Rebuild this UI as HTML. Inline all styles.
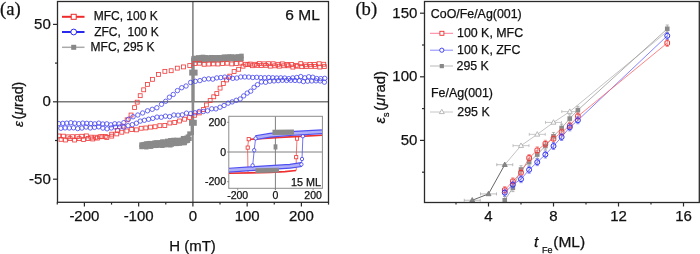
<!DOCTYPE html>
<html><head><meta charset="utf-8"><style>
html,body{margin:0;padding:0;background:#fff;}
body{width:700px;height:254px;position:relative;overflow:hidden;}
text{stroke:#111;stroke-width:0.25px;}
</style></head><body>
<svg width="700" height="254" viewBox="0 0 700 254" style="position:absolute;left:0;top:0;filter:blur(0.4px)">
<rect width="700" height="254" fill="#fff"/>
<defs><clipPath id="cl"><rect x="58" y="2" width="270" height="200"/></clipPath><clipPath id="ci"><rect x="229" y="116.5" width="93" height="71.5"/></clipPath></defs>
<line x1="57.5" y1="101.8" x2="328.5" y2="101.8" stroke="#7a7a7a" stroke-width="1.5"/>
<line x1="192.9" y1="1.5" x2="192.9" y2="202.3" stroke="#7a7a7a" stroke-width="1.5"/>
<g clip-path="url(#cl)">
<rect x="191.3" y="58" width="3.4" height="43" fill="#8a8a8a"/>
<rect x="191.6" y="100" width="2.6" height="22" fill="#8a8a8a"/>
<rect x="190.6" y="125" width="3.4" height="10" fill="#8a8a8a"/>
<rect x="139.25" y="142.35" width="4.5" height="4.5" fill="#8a8a8a"/>
<rect x="140.85" y="142.31" width="4.5" height="4.5" fill="#8a8a8a"/>
<rect x="142.45" y="141.84" width="4.5" height="4.5" fill="#8a8a8a"/>
<rect x="144.05" y="141.34" width="4.5" height="4.5" fill="#8a8a8a"/>
<rect x="145.65" y="141.37" width="4.5" height="4.5" fill="#8a8a8a"/>
<rect x="147.25" y="140.91" width="4.5" height="4.5" fill="#8a8a8a"/>
<rect x="148.85" y="141.24" width="4.5" height="4.5" fill="#8a8a8a"/>
<rect x="150.45" y="141.67" width="4.5" height="4.5" fill="#8a8a8a"/>
<rect x="152.05" y="140.54" width="4.5" height="4.5" fill="#8a8a8a"/>
<rect x="153.65" y="140.27" width="4.5" height="4.5" fill="#8a8a8a"/>
<rect x="155.25" y="140.62" width="4.5" height="4.5" fill="#8a8a8a"/>
<rect x="156.85" y="140.35" width="4.5" height="4.5" fill="#8a8a8a"/>
<rect x="158.45" y="140.03" width="4.5" height="4.5" fill="#8a8a8a"/>
<rect x="160.05" y="139.35" width="4.5" height="4.5" fill="#8a8a8a"/>
<rect x="161.65" y="139.65" width="4.5" height="4.5" fill="#8a8a8a"/>
<rect x="163.25" y="139.85" width="4.5" height="4.5" fill="#8a8a8a"/>
<rect x="164.85" y="138.67" width="4.5" height="4.5" fill="#8a8a8a"/>
<rect x="166.45" y="138.95" width="4.5" height="4.5" fill="#8a8a8a"/>
<rect x="168.05" y="138.07" width="4.5" height="4.5" fill="#8a8a8a"/>
<rect x="169.65" y="138.2" width="4.5" height="4.5" fill="#8a8a8a"/>
<rect x="171.25" y="137.74" width="4.5" height="4.5" fill="#8a8a8a"/>
<rect x="172.85" y="138.37" width="4.5" height="4.5" fill="#8a8a8a"/>
<rect x="174.45" y="137.68" width="4.5" height="4.5" fill="#8a8a8a"/>
<rect x="176.05" y="138.27" width="4.5" height="4.5" fill="#8a8a8a"/>
<rect x="177.65" y="138.04" width="4.5" height="4.5" fill="#8a8a8a"/>
<rect x="179.25" y="137.5" width="4.5" height="4.5" fill="#8a8a8a"/>
<rect x="180.85" y="135.95" width="4.5" height="4.5" fill="#8a8a8a"/>
<rect x="182.45" y="136.55" width="4.5" height="4.5" fill="#8a8a8a"/>
<rect x="184.05" y="135.64" width="4.5" height="4.5" fill="#8a8a8a"/>
<rect x="185.65" y="134.39" width="4.5" height="4.5" fill="#8a8a8a"/>
<rect x="187.25" y="131.38" width="4.5" height="4.5" fill="#8a8a8a"/>
<rect x="139.25" y="144.71" width="4.5" height="4.5" fill="#8a8a8a"/>
<rect x="140.85" y="144.29" width="4.5" height="4.5" fill="#8a8a8a"/>
<rect x="142.45" y="144.21" width="4.5" height="4.5" fill="#8a8a8a"/>
<rect x="144.05" y="144.97" width="4.5" height="4.5" fill="#8a8a8a"/>
<rect x="145.65" y="143.87" width="4.5" height="4.5" fill="#8a8a8a"/>
<rect x="147.25" y="144.09" width="4.5" height="4.5" fill="#8a8a8a"/>
<rect x="148.85" y="144.38" width="4.5" height="4.5" fill="#8a8a8a"/>
<rect x="150.45" y="143.49" width="4.5" height="4.5" fill="#8a8a8a"/>
<rect x="152.05" y="143.56" width="4.5" height="4.5" fill="#8a8a8a"/>
<rect x="153.65" y="143.52" width="4.5" height="4.5" fill="#8a8a8a"/>
<rect x="155.25" y="143.33" width="4.5" height="4.5" fill="#8a8a8a"/>
<rect x="156.85" y="142.53" width="4.5" height="4.5" fill="#8a8a8a"/>
<rect x="158.45" y="143.02" width="4.5" height="4.5" fill="#8a8a8a"/>
<rect x="160.05" y="143.5" width="4.5" height="4.5" fill="#8a8a8a"/>
<rect x="161.65" y="141.89" width="4.5" height="4.5" fill="#8a8a8a"/>
<rect x="163.25" y="142.93" width="4.5" height="4.5" fill="#8a8a8a"/>
<rect x="164.85" y="142.4" width="4.5" height="4.5" fill="#8a8a8a"/>
<rect x="166.45" y="141.86" width="4.5" height="4.5" fill="#8a8a8a"/>
<rect x="168.05" y="143.02" width="4.5" height="4.5" fill="#8a8a8a"/>
<rect x="169.65" y="142.22" width="4.5" height="4.5" fill="#8a8a8a"/>
<rect x="171.25" y="141.07" width="4.5" height="4.5" fill="#8a8a8a"/>
<rect x="172.85" y="141.53" width="4.5" height="4.5" fill="#8a8a8a"/>
<rect x="174.45" y="141.6" width="4.5" height="4.5" fill="#8a8a8a"/>
<rect x="176.05" y="141.04" width="4.5" height="4.5" fill="#8a8a8a"/>
<rect x="177.65" y="141.3" width="4.5" height="4.5" fill="#8a8a8a"/>
<rect x="179.25" y="140.62" width="4.5" height="4.5" fill="#8a8a8a"/>
<rect x="180.85" y="140.66" width="4.5" height="4.5" fill="#8a8a8a"/>
<rect x="182.45" y="140.73" width="4.5" height="4.5" fill="#8a8a8a"/>
<rect x="184.05" y="138.88" width="4.5" height="4.5" fill="#8a8a8a"/>
<rect x="185.65" y="138.41" width="4.5" height="4.5" fill="#8a8a8a"/>
<rect x="187.25" y="136.52" width="4.5" height="4.5" fill="#8a8a8a"/>
<rect x="191.25" y="58.2" width="4.5" height="4.5" fill="#8a8a8a"/>
<rect x="192.85" y="57.63" width="4.5" height="4.5" fill="#8a8a8a"/>
<rect x="194.45" y="57.82" width="4.5" height="4.5" fill="#8a8a8a"/>
<rect x="196.05" y="57.92" width="4.5" height="4.5" fill="#8a8a8a"/>
<rect x="197.65" y="58.31" width="4.5" height="4.5" fill="#8a8a8a"/>
<rect x="199.25" y="58.36" width="4.5" height="4.5" fill="#8a8a8a"/>
<rect x="200.85" y="57.33" width="4.5" height="4.5" fill="#8a8a8a"/>
<rect x="202.45" y="57.49" width="4.5" height="4.5" fill="#8a8a8a"/>
<rect x="204.05" y="58.02" width="4.5" height="4.5" fill="#8a8a8a"/>
<rect x="205.65" y="56.92" width="4.5" height="4.5" fill="#8a8a8a"/>
<rect x="207.25" y="57.48" width="4.5" height="4.5" fill="#8a8a8a"/>
<rect x="208.85" y="57.57" width="4.5" height="4.5" fill="#8a8a8a"/>
<rect x="210.45" y="58.04" width="4.5" height="4.5" fill="#8a8a8a"/>
<rect x="212.05" y="57.75" width="4.5" height="4.5" fill="#8a8a8a"/>
<rect x="213.65" y="57.28" width="4.5" height="4.5" fill="#8a8a8a"/>
<rect x="215.25" y="57.2" width="4.5" height="4.5" fill="#8a8a8a"/>
<rect x="216.85" y="57.19" width="4.5" height="4.5" fill="#8a8a8a"/>
<rect x="218.45" y="57.83" width="4.5" height="4.5" fill="#8a8a8a"/>
<rect x="220.05" y="56.99" width="4.5" height="4.5" fill="#8a8a8a"/>
<rect x="221.65" y="56.97" width="4.5" height="4.5" fill="#8a8a8a"/>
<rect x="223.25" y="57.17" width="4.5" height="4.5" fill="#8a8a8a"/>
<rect x="224.85" y="56.92" width="4.5" height="4.5" fill="#8a8a8a"/>
<rect x="226.45" y="56.82" width="4.5" height="4.5" fill="#8a8a8a"/>
<rect x="228.05" y="56.4" width="4.5" height="4.5" fill="#8a8a8a"/>
<rect x="229.65" y="56.81" width="4.5" height="4.5" fill="#8a8a8a"/>
<rect x="231.25" y="56.61" width="4.5" height="4.5" fill="#8a8a8a"/>
<rect x="232.85" y="57.23" width="4.5" height="4.5" fill="#8a8a8a"/>
<rect x="234.45" y="57" width="4.5" height="4.5" fill="#8a8a8a"/>
<rect x="236.05" y="56.7" width="4.5" height="4.5" fill="#8a8a8a"/>
<rect x="237.65" y="56.95" width="4.5" height="4.5" fill="#8a8a8a"/>
<rect x="239.25" y="56.52" width="4.5" height="4.5" fill="#8a8a8a"/>
<rect x="191.25" y="56.17" width="4.5" height="4.5" fill="#8a8a8a"/>
<rect x="192.85" y="55.72" width="4.5" height="4.5" fill="#8a8a8a"/>
<rect x="194.45" y="55.93" width="4.5" height="4.5" fill="#8a8a8a"/>
<rect x="196.05" y="55.16" width="4.5" height="4.5" fill="#8a8a8a"/>
<rect x="197.65" y="55.79" width="4.5" height="4.5" fill="#8a8a8a"/>
<rect x="199.25" y="54.93" width="4.5" height="4.5" fill="#8a8a8a"/>
<rect x="200.85" y="54.74" width="4.5" height="4.5" fill="#8a8a8a"/>
<rect x="202.45" y="55.39" width="4.5" height="4.5" fill="#8a8a8a"/>
<rect x="204.05" y="55.1" width="4.5" height="4.5" fill="#8a8a8a"/>
<rect x="205.65" y="55.48" width="4.5" height="4.5" fill="#8a8a8a"/>
<rect x="207.25" y="56.26" width="4.5" height="4.5" fill="#8a8a8a"/>
<rect x="208.85" y="54.98" width="4.5" height="4.5" fill="#8a8a8a"/>
<rect x="210.45" y="55.02" width="4.5" height="4.5" fill="#8a8a8a"/>
<rect x="212.05" y="55.3" width="4.5" height="4.5" fill="#8a8a8a"/>
<rect x="213.65" y="55.37" width="4.5" height="4.5" fill="#8a8a8a"/>
<rect x="215.25" y="55.05" width="4.5" height="4.5" fill="#8a8a8a"/>
<rect x="216.85" y="54.99" width="4.5" height="4.5" fill="#8a8a8a"/>
<rect x="218.45" y="55.3" width="4.5" height="4.5" fill="#8a8a8a"/>
<rect x="220.05" y="55.17" width="4.5" height="4.5" fill="#8a8a8a"/>
<rect x="221.65" y="54.48" width="4.5" height="4.5" fill="#8a8a8a"/>
<rect x="223.25" y="54.8" width="4.5" height="4.5" fill="#8a8a8a"/>
<rect x="224.85" y="54.78" width="4.5" height="4.5" fill="#8a8a8a"/>
<rect x="226.45" y="54.28" width="4.5" height="4.5" fill="#8a8a8a"/>
<rect x="228.05" y="54.75" width="4.5" height="4.5" fill="#8a8a8a"/>
<rect x="229.65" y="54.28" width="4.5" height="4.5" fill="#8a8a8a"/>
<rect x="231.25" y="54.98" width="4.5" height="4.5" fill="#8a8a8a"/>
<rect x="232.85" y="54.64" width="4.5" height="4.5" fill="#8a8a8a"/>
<rect x="234.45" y="54.57" width="4.5" height="4.5" fill="#8a8a8a"/>
<rect x="236.05" y="54.28" width="4.5" height="4.5" fill="#8a8a8a"/>
<rect x="237.65" y="54.44" width="4.5" height="4.5" fill="#8a8a8a"/>
<rect x="239.25" y="53.66" width="4.5" height="4.5" fill="#8a8a8a"/>
<rect x="189.2" y="69.6" width="8.4" height="6" fill="#8a8a8a"/>
<rect x="189" y="119.8" width="7.8" height="6" fill="#8a8a8a"/>
<rect x="59.1" y="137.4" width="3.9" height="3.9" fill="none" stroke="#f04040" stroke-width="0.85"/>
<rect x="63.6" y="138.05" width="3.9" height="3.9" fill="none" stroke="#f04040" stroke-width="0.85"/>
<rect x="68.1" y="136.7" width="3.9" height="3.9" fill="none" stroke="#f04040" stroke-width="0.85"/>
<rect x="72.6" y="138.09" width="3.9" height="3.9" fill="none" stroke="#f04040" stroke-width="0.85"/>
<rect x="77.1" y="136.7" width="3.9" height="3.9" fill="none" stroke="#f04040" stroke-width="0.85"/>
<rect x="81.63" y="137.67" width="3.9" height="3.9" fill="none" stroke="#f04040" stroke-width="0.85"/>
<rect x="86.18" y="136.54" width="3.9" height="3.9" fill="none" stroke="#f04040" stroke-width="0.85"/>
<rect x="90.75" y="137.02" width="3.9" height="3.9" fill="none" stroke="#f04040" stroke-width="0.85"/>
<rect x="95.42" y="136.13" width="3.9" height="3.9" fill="none" stroke="#f04040" stroke-width="0.85"/>
<rect x="100.09" y="134.73" width="3.9" height="3.9" fill="none" stroke="#f04040" stroke-width="0.85"/>
<rect x="104.81" y="135.53" width="3.9" height="3.9" fill="none" stroke="#f04040" stroke-width="0.85"/>
<rect x="109.79" y="134.2" width="3.9" height="3.9" fill="none" stroke="#f04040" stroke-width="0.85"/>
<rect x="114.81" y="131.97" width="3.9" height="3.9" fill="none" stroke="#f04040" stroke-width="0.85"/>
<rect x="119.85" y="130.29" width="3.9" height="3.9" fill="none" stroke="#f04040" stroke-width="0.85"/>
<rect x="124.84" y="129" width="3.9" height="3.9" fill="none" stroke="#f04040" stroke-width="0.85"/>
<rect x="129.72" y="127.52" width="3.9" height="3.9" fill="none" stroke="#f04040" stroke-width="0.85"/>
<rect x="134.45" y="127.88" width="3.9" height="3.9" fill="none" stroke="#f04040" stroke-width="0.85"/>
<rect x="139.22" y="126.31" width="3.9" height="3.9" fill="none" stroke="#f04040" stroke-width="0.85"/>
<rect x="143.89" y="126" width="3.9" height="3.9" fill="none" stroke="#f04040" stroke-width="0.85"/>
<rect x="148.51" y="125.17" width="3.9" height="3.9" fill="none" stroke="#f04040" stroke-width="0.85"/>
<rect x="153.14" y="124.8" width="3.9" height="3.9" fill="none" stroke="#f04040" stroke-width="0.85"/>
<rect x="157.89" y="123.73" width="3.9" height="3.9" fill="none" stroke="#f04040" stroke-width="0.85"/>
<rect x="162.82" y="123.57" width="3.9" height="3.9" fill="none" stroke="#f04040" stroke-width="0.85"/>
<rect x="167.85" y="121.06" width="3.9" height="3.9" fill="none" stroke="#f04040" stroke-width="0.85"/>
<rect x="172.75" y="120.49" width="3.9" height="3.9" fill="none" stroke="#f04040" stroke-width="0.85"/>
<rect x="177.6" y="119.04" width="3.9" height="3.9" fill="none" stroke="#f04040" stroke-width="0.85"/>
<rect x="182.61" y="117.25" width="3.9" height="3.9" fill="none" stroke="#f04040" stroke-width="0.85"/>
<rect x="187.64" y="115.47" width="3.9" height="3.9" fill="none" stroke="#f04040" stroke-width="0.85"/>
<rect x="192.64" y="113.32" width="3.9" height="3.9" fill="none" stroke="#f04040" stroke-width="0.85"/>
<rect x="197.35" y="110.98" width="3.9" height="3.9" fill="none" stroke="#f04040" stroke-width="0.85"/>
<rect x="201.65" y="107.54" width="3.9" height="3.9" fill="none" stroke="#f04040" stroke-width="0.85"/>
<rect x="204.41" y="102.94" width="3.9" height="3.9" fill="none" stroke="#f04040" stroke-width="0.85"/>
<rect x="208.22" y="98.59" width="3.9" height="3.9" fill="none" stroke="#f04040" stroke-width="0.85"/>
<rect x="211.8" y="94.83" width="3.9" height="3.9" fill="none" stroke="#f04040" stroke-width="0.85"/>
<rect x="214.84" y="91.6" width="3.9" height="3.9" fill="none" stroke="#f04040" stroke-width="0.85"/>
<rect x="218.12" y="86.15" width="3.9" height="3.9" fill="none" stroke="#f04040" stroke-width="0.85"/>
<rect x="221.35" y="81.63" width="3.9" height="3.9" fill="none" stroke="#f04040" stroke-width="0.85"/>
<rect x="224.59" y="78" width="3.9" height="3.9" fill="none" stroke="#f04040" stroke-width="0.85"/>
<rect x="227.81" y="74.21" width="3.9" height="3.9" fill="none" stroke="#f04040" stroke-width="0.85"/>
<rect x="232.15" y="69.59" width="3.9" height="3.9" fill="none" stroke="#f04040" stroke-width="0.85"/>
<rect x="236.68" y="67.34" width="3.9" height="3.9" fill="none" stroke="#f04040" stroke-width="0.85"/>
<rect x="241.08" y="64.23" width="3.9" height="3.9" fill="none" stroke="#f04040" stroke-width="0.85"/>
<rect x="245.9" y="62.7" width="3.9" height="3.9" fill="none" stroke="#f04040" stroke-width="0.85"/>
<rect x="250.4" y="63.77" width="3.9" height="3.9" fill="none" stroke="#f04040" stroke-width="0.85"/>
<rect x="254.89" y="63.45" width="3.9" height="3.9" fill="none" stroke="#f04040" stroke-width="0.85"/>
<rect x="259.39" y="63.67" width="3.9" height="3.9" fill="none" stroke="#f04040" stroke-width="0.85"/>
<rect x="263.89" y="63.43" width="3.9" height="3.9" fill="none" stroke="#f04040" stroke-width="0.85"/>
<rect x="268.38" y="64.21" width="3.9" height="3.9" fill="none" stroke="#f04040" stroke-width="0.85"/>
<rect x="272.88" y="63.88" width="3.9" height="3.9" fill="none" stroke="#f04040" stroke-width="0.85"/>
<rect x="277.38" y="64.25" width="3.9" height="3.9" fill="none" stroke="#f04040" stroke-width="0.85"/>
<rect x="281.88" y="63.83" width="3.9" height="3.9" fill="none" stroke="#f04040" stroke-width="0.85"/>
<rect x="286.38" y="63.83" width="3.9" height="3.9" fill="none" stroke="#f04040" stroke-width="0.85"/>
<rect x="290.88" y="65.15" width="3.9" height="3.9" fill="none" stroke="#f04040" stroke-width="0.85"/>
<rect x="295.38" y="64.27" width="3.9" height="3.9" fill="none" stroke="#f04040" stroke-width="0.85"/>
<rect x="299.88" y="64.72" width="3.9" height="3.9" fill="none" stroke="#f04040" stroke-width="0.85"/>
<rect x="304.38" y="64.6" width="3.9" height="3.9" fill="none" stroke="#f04040" stroke-width="0.85"/>
<rect x="308.88" y="64.44" width="3.9" height="3.9" fill="none" stroke="#f04040" stroke-width="0.85"/>
<rect x="313.37" y="64.46" width="3.9" height="3.9" fill="none" stroke="#f04040" stroke-width="0.85"/>
<rect x="317.87" y="65.07" width="3.9" height="3.9" fill="none" stroke="#f04040" stroke-width="0.85"/>
<rect x="322.37" y="64.65" width="3.9" height="3.9" fill="none" stroke="#f04040" stroke-width="0.85"/>
<rect x="56.85" y="134.01" width="3.9" height="3.9" fill="none" stroke="#f04040" stroke-width="0.85"/>
<rect x="61.45" y="134.2" width="3.9" height="3.9" fill="none" stroke="#f04040" stroke-width="0.85"/>
<rect x="66.05" y="134.88" width="3.9" height="3.9" fill="none" stroke="#f04040" stroke-width="0.85"/>
<rect x="70.65" y="134.73" width="3.9" height="3.9" fill="none" stroke="#f04040" stroke-width="0.85"/>
<rect x="75.25" y="134.68" width="3.9" height="3.9" fill="none" stroke="#f04040" stroke-width="0.85"/>
<rect x="79.84" y="134.3" width="3.9" height="3.9" fill="none" stroke="#f04040" stroke-width="0.85"/>
<rect x="84.44" y="133.95" width="3.9" height="3.9" fill="none" stroke="#f04040" stroke-width="0.85"/>
<rect x="89.04" y="135.19" width="3.9" height="3.9" fill="none" stroke="#f04040" stroke-width="0.85"/>
<rect x="93.64" y="135.27" width="3.9" height="3.9" fill="none" stroke="#f04040" stroke-width="0.85"/>
<rect x="98.24" y="134.77" width="3.9" height="3.9" fill="none" stroke="#f04040" stroke-width="0.85"/>
<rect x="103.33" y="134.44" width="3.9" height="3.9" fill="none" stroke="#f04040" stroke-width="0.85"/>
<rect x="109.68" y="132.23" width="3.9" height="3.9" fill="none" stroke="#f04040" stroke-width="0.85"/>
<rect x="115.56" y="128.5" width="3.9" height="3.9" fill="none" stroke="#f04040" stroke-width="0.85"/>
<rect x="121.04" y="124.2" width="3.9" height="3.9" fill="none" stroke="#f04040" stroke-width="0.85"/>
<rect x="125.19" y="117.91" width="3.9" height="3.9" fill="none" stroke="#f04040" stroke-width="0.85"/>
<rect x="129.1" y="113.09" width="3.9" height="3.9" fill="none" stroke="#f04040" stroke-width="0.85"/>
<rect x="132.63" y="105.67" width="3.9" height="3.9" fill="none" stroke="#f04040" stroke-width="0.85"/>
<rect x="135.25" y="100.23" width="3.9" height="3.9" fill="none" stroke="#f04040" stroke-width="0.85"/>
<rect x="138.25" y="93.72" width="3.9" height="3.9" fill="none" stroke="#f04040" stroke-width="0.85"/>
<rect x="141.73" y="87.85" width="3.9" height="3.9" fill="none" stroke="#f04040" stroke-width="0.85"/>
<rect x="145.49" y="82.45" width="3.9" height="3.9" fill="none" stroke="#f04040" stroke-width="0.85"/>
<rect x="150.49" y="77.38" width="3.9" height="3.9" fill="none" stroke="#f04040" stroke-width="0.85"/>
<rect x="156.49" y="72.46" width="3.9" height="3.9" fill="none" stroke="#f04040" stroke-width="0.85"/>
<rect x="162.9" y="69.4" width="3.9" height="3.9" fill="none" stroke="#f04040" stroke-width="0.85"/>
<rect x="169.22" y="68.78" width="3.9" height="3.9" fill="none" stroke="#f04040" stroke-width="0.85"/>
<rect x="175.37" y="66.2" width="3.9" height="3.9" fill="none" stroke="#f04040" stroke-width="0.85"/>
<rect x="181.57" y="64.96" width="3.9" height="3.9" fill="none" stroke="#f04040" stroke-width="0.85"/>
<rect x="187.8" y="63.61" width="3.9" height="3.9" fill="none" stroke="#f04040" stroke-width="0.85"/>
<rect x="193.01" y="61.65" width="3.9" height="3.9" fill="none" stroke="#f04040" stroke-width="0.85"/>
<rect x="197.61" y="61.29" width="3.9" height="3.9" fill="none" stroke="#f04040" stroke-width="0.85"/>
<rect x="202.2" y="62.34" width="3.9" height="3.9" fill="none" stroke="#f04040" stroke-width="0.85"/>
<rect x="206.8" y="62.11" width="3.9" height="3.9" fill="none" stroke="#f04040" stroke-width="0.85"/>
<rect x="211.4" y="61.93" width="3.9" height="3.9" fill="none" stroke="#f04040" stroke-width="0.85"/>
<rect x="216" y="62.07" width="3.9" height="3.9" fill="none" stroke="#f04040" stroke-width="0.85"/>
<rect x="220.6" y="61.62" width="3.9" height="3.9" fill="none" stroke="#f04040" stroke-width="0.85"/>
<rect x="225.2" y="61.29" width="3.9" height="3.9" fill="none" stroke="#f04040" stroke-width="0.85"/>
<rect x="229.8" y="61.97" width="3.9" height="3.9" fill="none" stroke="#f04040" stroke-width="0.85"/>
<rect x="234.4" y="61.56" width="3.9" height="3.9" fill="none" stroke="#f04040" stroke-width="0.85"/>
<rect x="239" y="61.23" width="3.9" height="3.9" fill="none" stroke="#f04040" stroke-width="0.85"/>
<rect x="243.6" y="62.33" width="3.9" height="3.9" fill="none" stroke="#f04040" stroke-width="0.85"/>
<rect x="248.2" y="62.08" width="3.9" height="3.9" fill="none" stroke="#f04040" stroke-width="0.85"/>
<rect x="252.8" y="62.34" width="3.9" height="3.9" fill="none" stroke="#f04040" stroke-width="0.85"/>
<rect x="257.4" y="61.66" width="3.9" height="3.9" fill="none" stroke="#f04040" stroke-width="0.85"/>
<rect x="262" y="61.86" width="3.9" height="3.9" fill="none" stroke="#f04040" stroke-width="0.85"/>
<rect x="266.6" y="61.71" width="3.9" height="3.9" fill="none" stroke="#f04040" stroke-width="0.85"/>
<rect x="271.2" y="61.79" width="3.9" height="3.9" fill="none" stroke="#f04040" stroke-width="0.85"/>
<rect x="275.8" y="62.36" width="3.9" height="3.9" fill="none" stroke="#f04040" stroke-width="0.85"/>
<rect x="280.4" y="61.9" width="3.9" height="3.9" fill="none" stroke="#f04040" stroke-width="0.85"/>
<rect x="285" y="62.49" width="3.9" height="3.9" fill="none" stroke="#f04040" stroke-width="0.85"/>
<rect x="289.6" y="62.51" width="3.9" height="3.9" fill="none" stroke="#f04040" stroke-width="0.85"/>
<rect x="294.2" y="63.38" width="3.9" height="3.9" fill="none" stroke="#f04040" stroke-width="0.85"/>
<rect x="298.8" y="61.69" width="3.9" height="3.9" fill="none" stroke="#f04040" stroke-width="0.85"/>
<rect x="303.4" y="62.86" width="3.9" height="3.9" fill="none" stroke="#f04040" stroke-width="0.85"/>
<rect x="308" y="62.4" width="3.9" height="3.9" fill="none" stroke="#f04040" stroke-width="0.85"/>
<rect x="312.6" y="62.46" width="3.9" height="3.9" fill="none" stroke="#f04040" stroke-width="0.85"/>
<rect x="317.2" y="61.77" width="3.9" height="3.9" fill="none" stroke="#f04040" stroke-width="0.85"/>
<rect x="321.8" y="62.29" width="3.9" height="3.9" fill="none" stroke="#f04040" stroke-width="0.85"/>
<circle cx="60.9" cy="128.29" r="2.2" fill="none" stroke="#4242f0" stroke-width="0.8"/>
<circle cx="65.1" cy="127.89" r="2.2" fill="none" stroke="#4242f0" stroke-width="0.8"/>
<circle cx="69.3" cy="127.99" r="2.2" fill="none" stroke="#4242f0" stroke-width="0.8"/>
<circle cx="73.5" cy="127.83" r="2.2" fill="none" stroke="#4242f0" stroke-width="0.8"/>
<circle cx="77.7" cy="128.57" r="2.2" fill="none" stroke="#4242f0" stroke-width="0.8"/>
<circle cx="81.9" cy="128.04" r="2.2" fill="none" stroke="#4242f0" stroke-width="0.8"/>
<circle cx="86.1" cy="127.05" r="2.2" fill="none" stroke="#4242f0" stroke-width="0.8"/>
<circle cx="90.3" cy="127.91" r="2.2" fill="none" stroke="#4242f0" stroke-width="0.8"/>
<circle cx="94.5" cy="127.38" r="2.2" fill="none" stroke="#4242f0" stroke-width="0.8"/>
<circle cx="98.69" cy="126.84" r="2.2" fill="none" stroke="#4242f0" stroke-width="0.8"/>
<circle cx="102.89" cy="128.09" r="2.2" fill="none" stroke="#4242f0" stroke-width="0.8"/>
<circle cx="107.08" cy="128.81" r="2.2" fill="none" stroke="#4242f0" stroke-width="0.8"/>
<circle cx="111.28" cy="127.96" r="2.2" fill="none" stroke="#4242f0" stroke-width="0.8"/>
<circle cx="115.47" cy="127.14" r="2.2" fill="none" stroke="#4242f0" stroke-width="0.8"/>
<circle cx="119.67" cy="127.05" r="2.2" fill="none" stroke="#4242f0" stroke-width="0.8"/>
<circle cx="123.88" cy="127.16" r="2.2" fill="none" stroke="#4242f0" stroke-width="0.8"/>
<circle cx="128.09" cy="125.69" r="2.2" fill="none" stroke="#4242f0" stroke-width="0.8"/>
<circle cx="132.29" cy="124.66" r="2.2" fill="none" stroke="#4242f0" stroke-width="0.8"/>
<circle cx="136.39" cy="123.2" r="2.2" fill="none" stroke="#4242f0" stroke-width="0.8"/>
<circle cx="140.23" cy="121.11" r="2.2" fill="none" stroke="#4242f0" stroke-width="0.8"/>
<circle cx="144.37" cy="120.27" r="2.2" fill="none" stroke="#4242f0" stroke-width="0.8"/>
<circle cx="148.58" cy="119.27" r="2.2" fill="none" stroke="#4242f0" stroke-width="0.8"/>
<circle cx="152.8" cy="118.38" r="2.2" fill="none" stroke="#4242f0" stroke-width="0.8"/>
<circle cx="157.02" cy="117.11" r="2.2" fill="none" stroke="#4242f0" stroke-width="0.8"/>
<circle cx="161.24" cy="117.25" r="2.2" fill="none" stroke="#4242f0" stroke-width="0.8"/>
<circle cx="165.45" cy="116.16" r="2.2" fill="none" stroke="#4242f0" stroke-width="0.8"/>
<circle cx="169.67" cy="116.62" r="2.2" fill="none" stroke="#4242f0" stroke-width="0.8"/>
<circle cx="173.88" cy="115.01" r="2.2" fill="none" stroke="#4242f0" stroke-width="0.8"/>
<circle cx="178.09" cy="115.19" r="2.2" fill="none" stroke="#4242f0" stroke-width="0.8"/>
<circle cx="182.3" cy="114.86" r="2.2" fill="none" stroke="#4242f0" stroke-width="0.8"/>
<circle cx="186.49" cy="113.15" r="2.2" fill="none" stroke="#4242f0" stroke-width="0.8"/>
<circle cx="190.69" cy="113.6" r="2.2" fill="none" stroke="#4242f0" stroke-width="0.8"/>
<circle cx="194.91" cy="112.78" r="2.2" fill="none" stroke="#4242f0" stroke-width="0.8"/>
<circle cx="199.12" cy="111.44" r="2.2" fill="none" stroke="#4242f0" stroke-width="0.8"/>
<circle cx="203.34" cy="111.51" r="2.2" fill="none" stroke="#4242f0" stroke-width="0.8"/>
<circle cx="207.55" cy="110.81" r="2.2" fill="none" stroke="#4242f0" stroke-width="0.8"/>
<circle cx="211.76" cy="108.78" r="2.2" fill="none" stroke="#4242f0" stroke-width="0.8"/>
<circle cx="215.93" cy="108.88" r="2.2" fill="none" stroke="#4242f0" stroke-width="0.8"/>
<circle cx="220.05" cy="107.21" r="2.2" fill="none" stroke="#4242f0" stroke-width="0.8"/>
<circle cx="224.07" cy="105.48" r="2.2" fill="none" stroke="#4242f0" stroke-width="0.8"/>
<circle cx="228.11" cy="103.16" r="2.2" fill="none" stroke="#4242f0" stroke-width="0.8"/>
<circle cx="232.18" cy="101.9" r="2.2" fill="none" stroke="#4242f0" stroke-width="0.8"/>
<circle cx="236.25" cy="100.28" r="2.2" fill="none" stroke="#4242f0" stroke-width="0.8"/>
<circle cx="240.18" cy="98.99" r="2.2" fill="none" stroke="#4242f0" stroke-width="0.8"/>
<circle cx="243.68" cy="95.9" r="2.2" fill="none" stroke="#4242f0" stroke-width="0.8"/>
<circle cx="247.19" cy="93.08" r="2.2" fill="none" stroke="#4242f0" stroke-width="0.8"/>
<circle cx="250.7" cy="91.19" r="2.2" fill="none" stroke="#4242f0" stroke-width="0.8"/>
<circle cx="254.07" cy="87.31" r="2.2" fill="none" stroke="#4242f0" stroke-width="0.8"/>
<circle cx="257.52" cy="84.67" r="2.2" fill="none" stroke="#4242f0" stroke-width="0.8"/>
<circle cx="261.43" cy="81.95" r="2.2" fill="none" stroke="#4242f0" stroke-width="0.8"/>
<circle cx="265.59" cy="82.28" r="2.2" fill="none" stroke="#4242f0" stroke-width="0.8"/>
<circle cx="269.81" cy="81.22" r="2.2" fill="none" stroke="#4242f0" stroke-width="0.8"/>
<circle cx="274.01" cy="80.94" r="2.2" fill="none" stroke="#4242f0" stroke-width="0.8"/>
<circle cx="278.21" cy="80.66" r="2.2" fill="none" stroke="#4242f0" stroke-width="0.8"/>
<circle cx="282.41" cy="80.27" r="2.2" fill="none" stroke="#4242f0" stroke-width="0.8"/>
<circle cx="286.6" cy="80.44" r="2.2" fill="none" stroke="#4242f0" stroke-width="0.8"/>
<circle cx="290.8" cy="80.32" r="2.2" fill="none" stroke="#4242f0" stroke-width="0.8"/>
<circle cx="295" cy="80.46" r="2.2" fill="none" stroke="#4242f0" stroke-width="0.8"/>
<circle cx="299.2" cy="80.7" r="2.2" fill="none" stroke="#4242f0" stroke-width="0.8"/>
<circle cx="303.4" cy="81.54" r="2.2" fill="none" stroke="#4242f0" stroke-width="0.8"/>
<circle cx="307.6" cy="81.18" r="2.2" fill="none" stroke="#4242f0" stroke-width="0.8"/>
<circle cx="311.8" cy="80.98" r="2.2" fill="none" stroke="#4242f0" stroke-width="0.8"/>
<circle cx="315.99" cy="80.84" r="2.2" fill="none" stroke="#4242f0" stroke-width="0.8"/>
<circle cx="320.19" cy="80.93" r="2.2" fill="none" stroke="#4242f0" stroke-width="0.8"/>
<circle cx="324.39" cy="82.17" r="2.2" fill="none" stroke="#4242f0" stroke-width="0.8"/>
<circle cx="58.8" cy="123.64" r="2.2" fill="none" stroke="#4242f0" stroke-width="0.8"/>
<circle cx="62.8" cy="123.38" r="2.2" fill="none" stroke="#4242f0" stroke-width="0.8"/>
<circle cx="66.8" cy="123.14" r="2.2" fill="none" stroke="#4242f0" stroke-width="0.8"/>
<circle cx="70.8" cy="122.73" r="2.2" fill="none" stroke="#4242f0" stroke-width="0.8"/>
<circle cx="74.8" cy="123.21" r="2.2" fill="none" stroke="#4242f0" stroke-width="0.8"/>
<circle cx="78.8" cy="123.65" r="2.2" fill="none" stroke="#4242f0" stroke-width="0.8"/>
<circle cx="82.8" cy="123.12" r="2.2" fill="none" stroke="#4242f0" stroke-width="0.8"/>
<circle cx="86.79" cy="123.36" r="2.2" fill="none" stroke="#4242f0" stroke-width="0.8"/>
<circle cx="90.79" cy="123.52" r="2.2" fill="none" stroke="#4242f0" stroke-width="0.8"/>
<circle cx="94.79" cy="123.85" r="2.2" fill="none" stroke="#4242f0" stroke-width="0.8"/>
<circle cx="98.78" cy="123.15" r="2.2" fill="none" stroke="#4242f0" stroke-width="0.8"/>
<circle cx="102.78" cy="123.99" r="2.2" fill="none" stroke="#4242f0" stroke-width="0.8"/>
<circle cx="106.78" cy="123.84" r="2.2" fill="none" stroke="#4242f0" stroke-width="0.8"/>
<circle cx="110.77" cy="124.8" r="2.2" fill="none" stroke="#4242f0" stroke-width="0.8"/>
<circle cx="114.77" cy="123.78" r="2.2" fill="none" stroke="#4242f0" stroke-width="0.8"/>
<circle cx="118.97" cy="123.93" r="2.2" fill="none" stroke="#4242f0" stroke-width="0.8"/>
<circle cx="123.85" cy="122.61" r="2.2" fill="none" stroke="#4242f0" stroke-width="0.8"/>
<circle cx="128.43" cy="119.26" r="2.2" fill="none" stroke="#4242f0" stroke-width="0.8"/>
<circle cx="133.07" cy="116.77" r="2.2" fill="none" stroke="#4242f0" stroke-width="0.8"/>
<circle cx="137.81" cy="115.02" r="2.2" fill="none" stroke="#4242f0" stroke-width="0.8"/>
<circle cx="142.63" cy="112.98" r="2.2" fill="none" stroke="#4242f0" stroke-width="0.8"/>
<circle cx="147.51" cy="110.8" r="2.2" fill="none" stroke="#4242f0" stroke-width="0.8"/>
<circle cx="152.22" cy="109.32" r="2.2" fill="none" stroke="#4242f0" stroke-width="0.8"/>
<circle cx="156.85" cy="107.74" r="2.2" fill="none" stroke="#4242f0" stroke-width="0.8"/>
<circle cx="161.52" cy="104.31" r="2.2" fill="none" stroke="#4242f0" stroke-width="0.8"/>
<circle cx="165.67" cy="101.28" r="2.2" fill="none" stroke="#4242f0" stroke-width="0.8"/>
<circle cx="169.37" cy="97.21" r="2.2" fill="none" stroke="#4242f0" stroke-width="0.8"/>
<circle cx="173.26" cy="94.46" r="2.2" fill="none" stroke="#4242f0" stroke-width="0.8"/>
<circle cx="177.44" cy="90.58" r="2.2" fill="none" stroke="#4242f0" stroke-width="0.8"/>
<circle cx="181.73" cy="87.72" r="2.2" fill="none" stroke="#4242f0" stroke-width="0.8"/>
<circle cx="186.05" cy="86.01" r="2.2" fill="none" stroke="#4242f0" stroke-width="0.8"/>
<circle cx="190.61" cy="82.45" r="2.2" fill="none" stroke="#4242f0" stroke-width="0.8"/>
<circle cx="195.34" cy="81.31" r="2.2" fill="none" stroke="#4242f0" stroke-width="0.8"/>
<circle cx="199.92" cy="80.6" r="2.2" fill="none" stroke="#4242f0" stroke-width="0.8"/>
<circle cx="204.3" cy="79.28" r="2.2" fill="none" stroke="#4242f0" stroke-width="0.8"/>
<circle cx="208.61" cy="78.84" r="2.2" fill="none" stroke="#4242f0" stroke-width="0.8"/>
<circle cx="212.78" cy="79.12" r="2.2" fill="none" stroke="#4242f0" stroke-width="0.8"/>
<circle cx="216.78" cy="77.9" r="2.2" fill="none" stroke="#4242f0" stroke-width="0.8"/>
<circle cx="220.78" cy="77.56" r="2.2" fill="none" stroke="#4242f0" stroke-width="0.8"/>
<circle cx="224.77" cy="77.08" r="2.2" fill="none" stroke="#4242f0" stroke-width="0.8"/>
<circle cx="228.77" cy="77.7" r="2.2" fill="none" stroke="#4242f0" stroke-width="0.8"/>
<circle cx="232.77" cy="78.35" r="2.2" fill="none" stroke="#4242f0" stroke-width="0.8"/>
<circle cx="236.77" cy="78.02" r="2.2" fill="none" stroke="#4242f0" stroke-width="0.8"/>
<circle cx="240.77" cy="76.99" r="2.2" fill="none" stroke="#4242f0" stroke-width="0.8"/>
<circle cx="244.77" cy="76.97" r="2.2" fill="none" stroke="#4242f0" stroke-width="0.8"/>
<circle cx="248.77" cy="77.07" r="2.2" fill="none" stroke="#4242f0" stroke-width="0.8"/>
<circle cx="252.77" cy="77.5" r="2.2" fill="none" stroke="#4242f0" stroke-width="0.8"/>
<circle cx="256.77" cy="77.33" r="2.2" fill="none" stroke="#4242f0" stroke-width="0.8"/>
<circle cx="260.77" cy="77.62" r="2.2" fill="none" stroke="#4242f0" stroke-width="0.8"/>
<circle cx="264.77" cy="77.74" r="2.2" fill="none" stroke="#4242f0" stroke-width="0.8"/>
<circle cx="268.77" cy="77.53" r="2.2" fill="none" stroke="#4242f0" stroke-width="0.8"/>
<circle cx="272.77" cy="77.74" r="2.2" fill="none" stroke="#4242f0" stroke-width="0.8"/>
<circle cx="276.77" cy="77.94" r="2.2" fill="none" stroke="#4242f0" stroke-width="0.8"/>
<circle cx="280.76" cy="77.84" r="2.2" fill="none" stroke="#4242f0" stroke-width="0.8"/>
<circle cx="284.76" cy="78.03" r="2.2" fill="none" stroke="#4242f0" stroke-width="0.8"/>
<circle cx="288.76" cy="78.62" r="2.2" fill="none" stroke="#4242f0" stroke-width="0.8"/>
<circle cx="292.76" cy="77.88" r="2.2" fill="none" stroke="#4242f0" stroke-width="0.8"/>
<circle cx="296.76" cy="77.51" r="2.2" fill="none" stroke="#4242f0" stroke-width="0.8"/>
<circle cx="300.76" cy="76.59" r="2.2" fill="none" stroke="#4242f0" stroke-width="0.8"/>
<circle cx="304.75" cy="77.79" r="2.2" fill="none" stroke="#4242f0" stroke-width="0.8"/>
<circle cx="308.75" cy="76.79" r="2.2" fill="none" stroke="#4242f0" stroke-width="0.8"/>
<circle cx="312.75" cy="77.22" r="2.2" fill="none" stroke="#4242f0" stroke-width="0.8"/>
<circle cx="316.74" cy="78.52" r="2.2" fill="none" stroke="#4242f0" stroke-width="0.8"/>
<circle cx="320.74" cy="78.61" r="2.2" fill="none" stroke="#4242f0" stroke-width="0.8"/>
<circle cx="324.74" cy="78.35" r="2.2" fill="none" stroke="#4242f0" stroke-width="0.8"/>
</g>
<rect x="57.5" y="1.5" width="271" height="200.8" fill="none" stroke="#2a2a2a" stroke-width="1.3"/>
<line x1="53" y1="179.2" x2="57.5" y2="179.2" stroke="#2a2a2a" stroke-width="1.2"/>
<line x1="53" y1="101.8" x2="57.5" y2="101.8" stroke="#2a2a2a" stroke-width="1.2"/>
<line x1="53" y1="24.4" x2="57.5" y2="24.4" stroke="#2a2a2a" stroke-width="1.2"/>
<line x1="55" y1="140.5" x2="57.5" y2="140.5" stroke="#2a2a2a" stroke-width="1.2"/>
<line x1="55" y1="63.1" x2="57.5" y2="63.1" stroke="#2a2a2a" stroke-width="1.2"/>
<line x1="84.4" y1="202.3" x2="84.4" y2="206.5" stroke="#2a2a2a" stroke-width="1.2"/>
<line x1="138.65" y1="202.3" x2="138.65" y2="206.5" stroke="#2a2a2a" stroke-width="1.2"/>
<line x1="192.9" y1="202.3" x2="192.9" y2="206.5" stroke="#2a2a2a" stroke-width="1.2"/>
<line x1="247.15" y1="202.3" x2="247.15" y2="206.5" stroke="#2a2a2a" stroke-width="1.2"/>
<line x1="301.4" y1="202.3" x2="301.4" y2="206.5" stroke="#2a2a2a" stroke-width="1.2"/>
<line x1="57.28" y1="202.3" x2="57.28" y2="204.6" stroke="#2a2a2a" stroke-width="1.2"/>
<line x1="111.53" y1="202.3" x2="111.53" y2="204.6" stroke="#2a2a2a" stroke-width="1.2"/>
<line x1="165.78" y1="202.3" x2="165.78" y2="204.6" stroke="#2a2a2a" stroke-width="1.2"/>
<line x1="220.03" y1="202.3" x2="220.03" y2="204.6" stroke="#2a2a2a" stroke-width="1.2"/>
<line x1="274.27" y1="202.3" x2="274.27" y2="204.6" stroke="#2a2a2a" stroke-width="1.2"/>
<line x1="328.52" y1="202.3" x2="328.52" y2="204.6" stroke="#2a2a2a" stroke-width="1.2"/>
<rect x="228.8" y="116.3" width="93.6" height="72" fill="#fff" stroke="#8c8c8c" stroke-width="1"/>
<line x1="229" y1="152.0" x2="322" y2="152.0" stroke="#808080" stroke-width="1"/>
<line x1="275.4" y1="116.5" x2="275.4" y2="190" stroke="#808080" stroke-width="1"/>
<g clip-path="url(#ci)">
<path d="M247.5,139.5 L260,138.6 L280,137.4 L300,136.4 L322,135.3" stroke="#ee3030" stroke-width="1.6" fill="none"/>
<path d="M228.5,173.3 L250,172.9 L270,172.4 L285,171.6 L296,170.5" stroke="#ee3030" stroke-width="1.6" fill="none"/>
<path d="M248,172.5 L247.6,147.5 L248.6,139.5" stroke="#ee5050" stroke-width="0.8" fill="none"/>
<path d="M297,138.4 L296.2,157.2 L296.3,170.6" stroke="#ee5050" stroke-width="0.8" fill="none"/>
<path d="M255.5,137.6 L270,135.3 L290,133.6 L322,131.8" stroke="#5050f0" stroke-width="5" fill="none"/>
<path d="M255.5,137.6 L270,135.3 L290,133.6 L322,131.8" stroke="#b0b0f8" stroke-width="2.6" fill="none"/>
<path d="M228.5,170.2 L250,168.8 L270,167.5 L290,166.2 L301.5,164.6" stroke="#5050f0" stroke-width="5" fill="none"/>
<path d="M228.5,170.2 L250,168.8 L270,167.5 L290,166.2 L301.5,164.6" stroke="#b0b0f8" stroke-width="2.6" fill="none"/>
<path d="M252.6,166.5 L254.2,150.2 L255.6,138.4" stroke="#5050ee" stroke-width="0.8" fill="none"/>
<path d="M302.9,136.2 L302,159 L301.4,164.4" stroke="#5050ee" stroke-width="0.8" fill="none"/>
<rect x="247.1" y="137.6" width="3.2" height="3.2" fill="#fff" stroke="#ee3030" stroke-width="0.8"/>
<rect x="246.1" y="146.0" width="3.2" height="3.2" fill="#fff" stroke="#ee3030" stroke-width="0.8"/>
<rect x="295.4" y="137.0" width="3.2" height="3.2" fill="#fff" stroke="#ee3030" stroke-width="0.8"/>
<rect x="294.59999999999997" y="155.6" width="3.2" height="3.2" fill="#fff" stroke="#ee3030" stroke-width="0.8"/>
<circle cx="255.6" cy="138.4" r="1.7" fill="#fff" stroke="#3a3aee" stroke-width="0.8"/>
<circle cx="254.2" cy="150.2" r="1.7" fill="#fff" stroke="#3a3aee" stroke-width="0.8"/>
<circle cx="252.6" cy="165.4" r="1.7" fill="#fff" stroke="#3a3aee" stroke-width="0.8"/>
<circle cx="302.9" cy="136.2" r="1.7" fill="#fff" stroke="#3a3aee" stroke-width="0.8"/>
<circle cx="302" cy="159" r="1.7" fill="#fff" stroke="#3a3aee" stroke-width="0.8"/>
<circle cx="301.4" cy="164.4" r="1.7" fill="#fff" stroke="#3a3aee" stroke-width="0.8"/>
<path d="M272.5,132.4 L294,132.1" stroke="#8a8a8a" stroke-width="5.2" fill="none"/>
<path d="M255.5,170.6 L279,170.2" stroke="#8a8a8a" stroke-width="4.8" fill="none"/>
<rect x="273.6" y="144.3" width="3.8" height="5.2" fill="#8a8a8a"/>
</g>
<line x1="227" y1="181.7" x2="229" y2="181.7" stroke="#808080" stroke-width="0.8"/>
<line x1="227" y1="152" x2="229" y2="152" stroke="#808080" stroke-width="0.8"/>
<line x1="227" y1="122.3" x2="229" y2="122.3" stroke="#808080" stroke-width="0.8"/>
<line x1="237.7" y1="188.3" x2="237.7" y2="190.3" stroke="#808080" stroke-width="0.8"/>
<line x1="275.4" y1="188.3" x2="275.4" y2="190.3" stroke="#808080" stroke-width="0.8"/>
<line x1="313.1" y1="188.3" x2="313.1" y2="190.3" stroke="#808080" stroke-width="0.8"/>
<defs><clipPath id="cr"><rect x="425" y="2" width="274" height="200"/></clipPath></defs>
<g clip-path="url(#cr)">
<polyline points="504.75,164.7 521,145.65 537.25,134.35 553.5,122.41 569.75,111.61 667.25,31.35" fill="none" stroke="#b4b4b4" stroke-width="0.8"/>
<polyline points="472.25,200.26 488.5,193.91 504.75,164.7" fill="none" stroke="#555" stroke-width="0.9"/>
<polyline points="504.75,200.26 512.88,187.81 521,169.53 529.12,162.16 537.25,154.54 545.38,146.03 553.5,136.25 561.62,128 569.75,118.6 577.88,110.09 667.25,28.81" fill="none" stroke="#9a9a9a" stroke-width="0.8"/>
<polyline points="504.75,192.64 512.88,184.64 521,179.18 529.12,169.78 537.25,162.16 545.38,154.54 553.5,146.03 561.62,137.01 569.75,127.36 577.88,120.25 667.25,35.8" fill="none" stroke="#6666ff" stroke-width="0.8"/>
<polyline points="504.75,190.1 512.88,181.34 521,172.7 529.12,157.97 537.25,150.35 545.38,143.75 553.5,138.67 561.62,132.31 569.75,125.71 577.88,116.31 667.25,43.03" fill="none" stroke="#ff6666" stroke-width="0.8"/>
<path d="M513,145.65 H529 M513,144.15 V147.15 M529,144.15 V147.15" stroke="#b0b0b0" stroke-width="0.7" fill="none"/>
<path d="M529.25,134.35 H545.25 M529.25,132.85 V135.85 M545.25,132.85 V135.85" stroke="#b0b0b0" stroke-width="0.7" fill="none"/>
<path d="M545.5,122.41 H561.5 M545.5,120.91 V123.91 M561.5,120.91 V123.91" stroke="#b0b0b0" stroke-width="0.7" fill="none"/>
<path d="M561.75,111.61 H577.75 M561.75,110.11 V113.11 M577.75,110.11 V113.11" stroke="#b0b0b0" stroke-width="0.7" fill="none"/>
<path d="M464.25,200.26 H480.25 M464.25,198.76 V201.76 M480.25,198.76 V201.76" stroke="#a0a0a0" stroke-width="0.7" fill="none"/>
<path d="M480.5,193.91 H496.5 M480.5,192.41 V195.41 M496.5,192.41 V195.41" stroke="#a0a0a0" stroke-width="0.7" fill="none"/>
<path d="M496.75,164.7 H512.75 M496.75,163.2 V166.2 M512.75,163.2 V166.2" stroke="#a0a0a0" stroke-width="0.7" fill="none"/>
<path d="M521,142.95 L523.5,147.45 L518.5,147.45 Z" fill="#fff" stroke="#a8a8a8" stroke-width="0.8"/>
<path d="M537.25,131.65 L539.75,136.15 L534.75,136.15 Z" fill="#fff" stroke="#a8a8a8" stroke-width="0.8"/>
<path d="M553.5,119.71 L556,124.21 L551,124.21 Z" fill="#fff" stroke="#a8a8a8" stroke-width="0.8"/>
<path d="M569.75,108.91 L572.25,113.41 L567.25,113.41 Z" fill="#fff" stroke="#a8a8a8" stroke-width="0.8"/>
<path d="M472.25,197.56 L474.75,202.06 L469.75,202.06 Z" fill="#888" stroke="#777" stroke-width="0.8"/>
<path d="M488.5,191.21 L491,195.71 L486,195.71 Z" fill="#888" stroke="#777" stroke-width="0.8"/>
<path d="M504.75,162 L507.25,166.5 L502.25,166.5 Z" fill="#888" stroke="#777" stroke-width="0.8"/>
<path d="M504.75,196.46 V204.06 M503.15,196.46 H506.35 M503.15,204.06 H506.35" stroke="#9a9a9a" stroke-width="0.7" fill="none"/>
<rect x="502.45" y="197.96" width="4.6" height="4.6" fill="#8a8a8a"/>
<path d="M512.88,184.01 V191.61 M511.27,184.01 H514.48 M511.27,191.61 H514.48" stroke="#9a9a9a" stroke-width="0.7" fill="none"/>
<rect x="510.57" y="185.51" width="4.6" height="4.6" fill="#8a8a8a"/>
<path d="M521,165.73 V173.33 M519.4,165.73 H522.6 M519.4,173.33 H522.6" stroke="#9a9a9a" stroke-width="0.7" fill="none"/>
<rect x="518.7" y="167.23" width="4.6" height="4.6" fill="#8a8a8a"/>
<path d="M529.12,158.36 V165.96 M527.52,158.36 H530.73 M527.52,165.96 H530.73" stroke="#9a9a9a" stroke-width="0.7" fill="none"/>
<rect x="526.83" y="159.86" width="4.6" height="4.6" fill="#8a8a8a"/>
<path d="M537.25,150.74 V158.34 M535.65,150.74 H538.85 M535.65,158.34 H538.85" stroke="#9a9a9a" stroke-width="0.7" fill="none"/>
<rect x="534.95" y="152.24" width="4.6" height="4.6" fill="#8a8a8a"/>
<path d="M545.38,142.23 V149.83 M543.77,142.23 H546.98 M543.77,149.83 H546.98" stroke="#9a9a9a" stroke-width="0.7" fill="none"/>
<rect x="543.08" y="143.73" width="4.6" height="4.6" fill="#8a8a8a"/>
<path d="M553.5,132.45 V140.05 M551.9,132.45 H555.1 M551.9,140.05 H555.1" stroke="#9a9a9a" stroke-width="0.7" fill="none"/>
<rect x="551.2" y="133.95" width="4.6" height="4.6" fill="#8a8a8a"/>
<path d="M561.62,124.2 V131.8 M560.02,124.2 H563.23 M560.02,131.8 H563.23" stroke="#9a9a9a" stroke-width="0.7" fill="none"/>
<rect x="559.33" y="125.7" width="4.6" height="4.6" fill="#8a8a8a"/>
<path d="M569.75,114.8 V122.4 M568.15,114.8 H571.35 M568.15,122.4 H571.35" stroke="#9a9a9a" stroke-width="0.7" fill="none"/>
<rect x="567.45" y="116.3" width="4.6" height="4.6" fill="#8a8a8a"/>
<path d="M577.88,106.29 V113.89 M576.27,106.29 H579.48 M576.27,113.89 H579.48" stroke="#9a9a9a" stroke-width="0.7" fill="none"/>
<rect x="575.58" y="107.79" width="4.6" height="4.6" fill="#8a8a8a"/>
<path d="M667.25,25.01 V32.61 M665.65,25.01 H668.85 M665.65,32.61 H668.85" stroke="#9a9a9a" stroke-width="0.7" fill="none"/>
<rect x="664.95" y="26.51" width="4.6" height="4.6" fill="#8a8a8a"/>
<path d="M504.75,186.6 V193.6 M503.15,186.6 H506.35 M503.15,193.6 H506.35" stroke="#f07070" stroke-width="0.7" fill="none"/>
<rect x="502.45" y="187.8" width="4.6" height="4.6" rx="1.2" fill="none" stroke="#ee3030" stroke-width="1"/>
<path d="M512.88,177.84 V184.84 M511.27,177.84 H514.48 M511.27,184.84 H514.48" stroke="#f07070" stroke-width="0.7" fill="none"/>
<rect x="510.57" y="179.04" width="4.6" height="4.6" rx="1.2" fill="none" stroke="#ee3030" stroke-width="1"/>
<path d="M521,169.2 V176.2 M519.4,169.2 H522.6 M519.4,176.2 H522.6" stroke="#f07070" stroke-width="0.7" fill="none"/>
<rect x="518.7" y="170.4" width="4.6" height="4.6" rx="1.2" fill="none" stroke="#ee3030" stroke-width="1"/>
<path d="M529.12,154.47 V161.47 M527.52,154.47 H530.73 M527.52,161.47 H530.73" stroke="#f07070" stroke-width="0.7" fill="none"/>
<rect x="526.83" y="155.67" width="4.6" height="4.6" rx="1.2" fill="none" stroke="#ee3030" stroke-width="1"/>
<path d="M537.25,146.85 V153.85 M535.65,146.85 H538.85 M535.65,153.85 H538.85" stroke="#f07070" stroke-width="0.7" fill="none"/>
<rect x="534.95" y="148.05" width="4.6" height="4.6" rx="1.2" fill="none" stroke="#ee3030" stroke-width="1"/>
<path d="M545.38,140.25 V147.25 M543.77,140.25 H546.98 M543.77,147.25 H546.98" stroke="#f07070" stroke-width="0.7" fill="none"/>
<rect x="543.08" y="141.44" width="4.6" height="4.6" rx="1.2" fill="none" stroke="#ee3030" stroke-width="1"/>
<path d="M553.5,135.17 V142.17 M551.9,135.17 H555.1 M551.9,142.17 H555.1" stroke="#f07070" stroke-width="0.7" fill="none"/>
<rect x="551.2" y="136.37" width="4.6" height="4.6" rx="1.2" fill="none" stroke="#ee3030" stroke-width="1"/>
<path d="M561.62,128.81 V135.81 M560.02,128.81 H563.23 M560.02,135.81 H563.23" stroke="#f07070" stroke-width="0.7" fill="none"/>
<rect x="559.33" y="130.01" width="4.6" height="4.6" rx="1.2" fill="none" stroke="#ee3030" stroke-width="1"/>
<path d="M569.75,122.21 V129.21 M568.15,122.21 H571.35 M568.15,129.21 H571.35" stroke="#f07070" stroke-width="0.7" fill="none"/>
<rect x="567.45" y="123.41" width="4.6" height="4.6" rx="1.2" fill="none" stroke="#ee3030" stroke-width="1"/>
<path d="M577.88,112.81 V119.81 M576.27,112.81 H579.48 M576.27,119.81 H579.48" stroke="#f07070" stroke-width="0.7" fill="none"/>
<rect x="575.58" y="114.01" width="4.6" height="4.6" rx="1.2" fill="none" stroke="#ee3030" stroke-width="1"/>
<path d="M667.25,39.53 V46.53 M665.65,39.53 H668.85 M665.65,46.53 H668.85" stroke="#f07070" stroke-width="0.7" fill="none"/>
<rect x="664.95" y="40.73" width="4.6" height="4.6" rx="1.2" fill="none" stroke="#ee3030" stroke-width="1"/>
<path d="M504.75,189.14 V196.14 M503.15,189.14 H506.35 M503.15,196.14 H506.35" stroke="#7070f0" stroke-width="0.7" fill="none"/>
<circle cx="504.75" cy="192.64" r="2.5" fill="none" stroke="#3030ee" stroke-width="1"/>
<path d="M512.88,181.14 V188.14 M511.27,181.14 H514.48 M511.27,188.14 H514.48" stroke="#7070f0" stroke-width="0.7" fill="none"/>
<circle cx="512.88" cy="184.64" r="2.5" fill="none" stroke="#3030ee" stroke-width="1"/>
<path d="M521,175.68 V182.68 M519.4,175.68 H522.6 M519.4,182.68 H522.6" stroke="#7070f0" stroke-width="0.7" fill="none"/>
<circle cx="521" cy="179.18" r="2.5" fill="none" stroke="#3030ee" stroke-width="1"/>
<path d="M529.12,166.28 V173.28 M527.52,166.28 H530.73 M527.52,173.28 H530.73" stroke="#7070f0" stroke-width="0.7" fill="none"/>
<circle cx="529.12" cy="169.78" r="2.5" fill="none" stroke="#3030ee" stroke-width="1"/>
<path d="M537.25,158.66 V165.66 M535.65,158.66 H538.85 M535.65,165.66 H538.85" stroke="#7070f0" stroke-width="0.7" fill="none"/>
<circle cx="537.25" cy="162.16" r="2.5" fill="none" stroke="#3030ee" stroke-width="1"/>
<path d="M545.38,151.04 V158.04 M543.77,151.04 H546.98 M543.77,158.04 H546.98" stroke="#7070f0" stroke-width="0.7" fill="none"/>
<circle cx="545.38" cy="154.54" r="2.5" fill="none" stroke="#3030ee" stroke-width="1"/>
<path d="M553.5,142.53 V149.53 M551.9,142.53 H555.1 M551.9,149.53 H555.1" stroke="#7070f0" stroke-width="0.7" fill="none"/>
<circle cx="553.5" cy="146.03" r="2.5" fill="none" stroke="#3030ee" stroke-width="1"/>
<path d="M561.62,133.51 V140.51 M560.02,133.51 H563.23 M560.02,140.51 H563.23" stroke="#7070f0" stroke-width="0.7" fill="none"/>
<circle cx="561.62" cy="137.01" r="2.5" fill="none" stroke="#3030ee" stroke-width="1"/>
<path d="M569.75,123.86 V130.86 M568.15,123.86 H571.35 M568.15,130.86 H571.35" stroke="#7070f0" stroke-width="0.7" fill="none"/>
<circle cx="569.75" cy="127.36" r="2.5" fill="none" stroke="#3030ee" stroke-width="1"/>
<path d="M577.88,116.75 V123.75 M576.27,116.75 H579.48 M576.27,123.75 H579.48" stroke="#7070f0" stroke-width="0.7" fill="none"/>
<circle cx="577.88" cy="120.25" r="2.5" fill="none" stroke="#3030ee" stroke-width="1"/>
<path d="M667.25,32.3 V39.3 M665.65,32.3 H668.85 M665.65,39.3 H668.85" stroke="#7070f0" stroke-width="0.7" fill="none"/>
<circle cx="667.25" cy="35.8" r="2.5" fill="none" stroke="#3030ee" stroke-width="1"/>
</g>
<rect x="424.5" y="1.5" width="274.8" height="201" fill="none" stroke="#2a2a2a" stroke-width="1.3"/>
<line x1="420" y1="140.4" x2="424.5" y2="140.4" stroke="#2a2a2a" stroke-width="1.2"/>
<line x1="420" y1="76.8" x2="424.5" y2="76.8" stroke="#2a2a2a" stroke-width="1.2"/>
<line x1="420" y1="13.2" x2="424.5" y2="13.2" stroke="#2a2a2a" stroke-width="1.2"/>
<line x1="422" y1="172.2" x2="424.5" y2="172.2" stroke="#2a2a2a" stroke-width="1.2"/>
<line x1="422" y1="108.6" x2="424.5" y2="108.6" stroke="#2a2a2a" stroke-width="1.2"/>
<line x1="422" y1="45" x2="424.5" y2="45" stroke="#2a2a2a" stroke-width="1.2"/>
<line x1="488.5" y1="202.5" x2="488.5" y2="206.5" stroke="#2a2a2a" stroke-width="1.2"/>
<line x1="553.5" y1="202.5" x2="553.5" y2="206.5" stroke="#2a2a2a" stroke-width="1.2"/>
<line x1="618.5" y1="202.5" x2="618.5" y2="206.5" stroke="#2a2a2a" stroke-width="1.2"/>
<line x1="683.5" y1="202.5" x2="683.5" y2="206.5" stroke="#2a2a2a" stroke-width="1.2"/>
<line x1="456" y1="202.5" x2="456" y2="204.6" stroke="#2a2a2a" stroke-width="1.2"/>
<line x1="521" y1="202.5" x2="521" y2="204.6" stroke="#2a2a2a" stroke-width="1.2"/>
<line x1="586" y1="202.5" x2="586" y2="204.6" stroke="#2a2a2a" stroke-width="1.2"/>
<line x1="651" y1="202.5" x2="651" y2="204.6" stroke="#2a2a2a" stroke-width="1.2"/>
<line x1="62" y1="16.8" x2="84.5" y2="16.8" stroke="#ee2a2a" stroke-width="2"/>
<rect x="71.2" y="14.3" width="5" height="5" fill="#fff" stroke="#ee2a2a" stroke-width="1"/>
<line x1="62" y1="32" x2="84.5" y2="32" stroke="#2a2aee" stroke-width="2"/>
<circle cx="73.7" cy="32" r="2.9" fill="#fff" stroke="#2a2aee" stroke-width="1"/>
<line x1="62" y1="47.3" x2="84.5" y2="47.3" stroke="#aaaaaa" stroke-width="1.5"/>
<rect x="71.2" y="44.8" width="5" height="5" fill="#888"/>
<line x1="430" y1="33.3" x2="453" y2="33.3" stroke="#ff7090" stroke-width="0.9"/>
<rect x="439.9" y="31.3" width="4" height="4" fill="#fff" stroke="#ee3030" stroke-width="0.9"/>
<line x1="430" y1="50.2" x2="453" y2="50.2" stroke="#7a7aff" stroke-width="0.9"/>
<circle cx="441.8" cy="50.2" r="2.1" fill="#fff" stroke="#3030ee" stroke-width="0.9"/>
<line x1="430" y1="66" x2="453" y2="66" stroke="#b0b0b0" stroke-width="0.9"/>
<rect x="439.7" y="64" width="4.2" height="4.2" fill="#888"/>
<line x1="430" y1="112" x2="453" y2="112" stroke="#c0c0c0" stroke-width="0.9"/>
<path d="M441.8,109.3 L444.3,113.6 L439.3,113.6 Z" fill="#fff" stroke="#a8a8a8" stroke-width="0.8"/>
<text x="93.7" y="20.3" font-family="Liberation Sans, Arial, sans-serif" font-size="12" text-anchor="start" fill="#111" >MFC, 100 K</text>
<text x="94.2" y="35.6" font-family="Liberation Sans, Arial, sans-serif" font-size="12" text-anchor="start" fill="#111" >ZFC,&#160; 100 K</text>
<text x="90.6" y="50.6" font-family="Liberation Sans, Arial, sans-serif" font-size="12" text-anchor="start" fill="#111" >MFC, 295 K</text>
<text x="285.3" y="20.2" font-family="Liberation Sans, Arial, sans-serif" font-size="15.5" text-anchor="start" fill="#111" >6 ML</text>
<text x="50.8" y="28.8" font-family="Liberation Sans, Arial, sans-serif" font-size="15" text-anchor="end" fill="#111" >50</text>
<text x="50.8" y="106.2" font-family="Liberation Sans, Arial, sans-serif" font-size="15" text-anchor="end" fill="#111" >0</text>
<text x="50.8" y="183.6" font-family="Liberation Sans, Arial, sans-serif" font-size="15" text-anchor="end" fill="#111" >-50</text>
<text x="84.4" y="220.6" font-family="Liberation Sans, Arial, sans-serif" font-size="15" text-anchor="middle" fill="#111" >-200</text>
<text x="138.65" y="220.6" font-family="Liberation Sans, Arial, sans-serif" font-size="15" text-anchor="middle" fill="#111" >-100</text>
<text x="192.9" y="220.6" font-family="Liberation Sans, Arial, sans-serif" font-size="15" text-anchor="middle" fill="#111" >0</text>
<text x="247.15" y="220.6" font-family="Liberation Sans, Arial, sans-serif" font-size="15" text-anchor="middle" fill="#111" >100</text>
<text x="301.4" y="220.6" font-family="Liberation Sans, Arial, sans-serif" font-size="15" text-anchor="middle" fill="#111" >200</text>
<text x="169.2" y="250.5" font-family="Liberation Sans, Arial, sans-serif" font-size="15" text-anchor="start" fill="#111" >H (mT)</text>
<text x="226" y="125.9" font-family="Liberation Sans, Arial, sans-serif" font-size="10.5" text-anchor="end" fill="#111" >200</text>
<text x="226" y="155.6" font-family="Liberation Sans, Arial, sans-serif" font-size="10.5" text-anchor="end" fill="#111" >0</text>
<text x="226" y="185.3" font-family="Liberation Sans, Arial, sans-serif" font-size="10.5" text-anchor="end" fill="#111" >-200</text>
<text x="237.7" y="198.6" font-family="Liberation Sans, Arial, sans-serif" font-size="10.5" text-anchor="middle" fill="#111" >-200</text>
<text x="275.4" y="198.6" font-family="Liberation Sans, Arial, sans-serif" font-size="10.5" text-anchor="middle" fill="#111" >0</text>
<text x="313.1" y="198.6" font-family="Liberation Sans, Arial, sans-serif" font-size="10.5" text-anchor="middle" fill="#111" >200</text>
<text x="291" y="186" font-family="Liberation Sans, Arial, sans-serif" font-size="10.8" text-anchor="start" fill="#111" >15 ML</text>
<text x="430.8" y="17.7" font-family="Liberation Sans, Arial, sans-serif" font-size="12.4" text-anchor="start" fill="#111" >CoO/Fe/Ag(001)</text>
<text x="457" y="37.1" font-family="Liberation Sans, Arial, sans-serif" font-size="12.4" text-anchor="start" fill="#111" >100 K, MFC</text>
<text x="457" y="53.9" font-family="Liberation Sans, Arial, sans-serif" font-size="12.4" text-anchor="start" fill="#111" >100 K, ZFC</text>
<text x="456.5" y="69.7" font-family="Liberation Sans, Arial, sans-serif" font-size="12.4" text-anchor="start" fill="#111" >295 K</text>
<text x="431" y="97.2" font-family="Liberation Sans, Arial, sans-serif" font-size="12.4" text-anchor="start" fill="#111" >Fe/Ag(001)</text>
<text x="457.3" y="116.3" font-family="Liberation Sans, Arial, sans-serif" font-size="12.4" text-anchor="start" fill="#111" >295 K</text>
<text x="417.4" y="17.6" font-family="Liberation Sans, Arial, sans-serif" font-size="15" text-anchor="end" fill="#111" >150</text>
<text x="417.4" y="81.2" font-family="Liberation Sans, Arial, sans-serif" font-size="15" text-anchor="end" fill="#111" >100</text>
<text x="417.4" y="144.8" font-family="Liberation Sans, Arial, sans-serif" font-size="15" text-anchor="end" fill="#111" >50</text>
<text x="488.5" y="221.1" font-family="Liberation Sans, Arial, sans-serif" font-size="15" text-anchor="middle" fill="#111" >4</text>
<text x="553.5" y="221.1" font-family="Liberation Sans, Arial, sans-serif" font-size="15" text-anchor="middle" fill="#111" >8</text>
<text x="618.5" y="221.1" font-family="Liberation Sans, Arial, sans-serif" font-size="15" text-anchor="middle" fill="#111" >12</text>
<text x="683.5" y="221.1" font-family="Liberation Sans, Arial, sans-serif" font-size="15" text-anchor="middle" fill="#111" >16</text>
<text x="534" y="246.7" font-family="Liberation Sans, Arial, sans-serif" font-size="15.5" fill="#111" font-style="italic">t</text>
<text x="542" y="253.4" font-family="Liberation Sans, Arial, sans-serif" font-size="9" fill="#111">Fe</text>
<text x="553.3" y="246.7" font-family="Liberation Sans, Arial, sans-serif" font-size="15.5" fill="#111">(ML)</text>
<text transform="translate(23.3,126.9) rotate(-90)" font-family="Liberation Sans, Arial, sans-serif" font-size="13.5" font-style="italic" fill="#111">ε</text>
<text transform="translate(23.3,119.4) rotate(-90)" font-family="Liberation Sans, Arial, sans-serif" font-size="14.2" fill="#111">(<tspan font-style="italic">μ</tspan>rad)</text>
<text transform="translate(384.6,123.4) rotate(-90)" font-family="Liberation Sans, Arial, sans-serif" font-size="14.5" font-style="italic" fill="#111">ε</text>
<text transform="translate(388.8,116.9) rotate(-90)" font-family="Liberation Sans, Arial, sans-serif" font-size="9" fill="#111">s</text>
<text transform="translate(385,110.8) rotate(-90)" font-family="Liberation Sans, Arial, sans-serif" font-size="15" fill="#111">(<tspan font-style="italic">μ</tspan>rad)</text>
<text x="0.1" y="15.3" font-family="Liberation Serif, Times New Roman, serif" font-size="18.6" fill="#111">(a)</text>
<text x="355.4" y="14.6" font-family="Liberation Serif, Times New Roman, serif" font-size="18.6" fill="#111">(b)</text>
</svg>
</body></html>
